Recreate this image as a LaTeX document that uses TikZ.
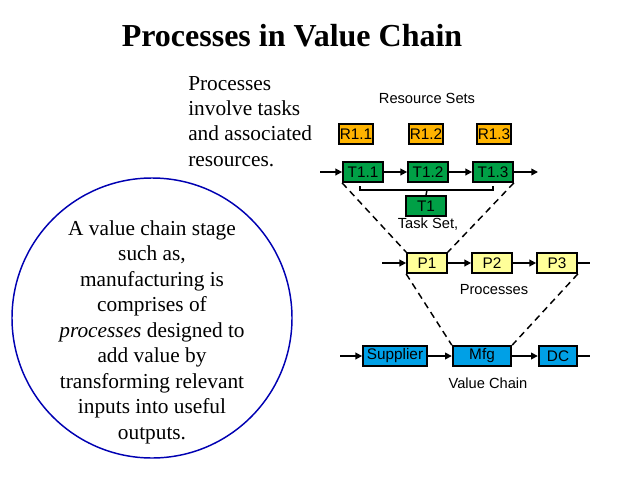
\documentclass[tikz,border=0pt]{standalone}
\usepackage{fontspec}
\setmainfont{Liberation Serif}
\newfontfamily\sansf{Liberation Sans}
\usetikzlibrary{arrows.meta}
\definecolor{rorange}{RGB}{255,180,0}
\definecolor{tgreen}{RGB}{0,160,70}
\definecolor{pyellow}{RGB}{255,255,153}
\definecolor{vblue}{RGB}{0,160,230}
\begin{document}
\begin{tikzpicture}[x=0.75pt,y=-0.75pt,
 box/.style={draw=black,line width=1.3pt,inner sep=0pt,font=\sansf\fontsize{11.5}{13}\selectfont,minimum height=15pt},
 arr/.style={line width=1.1pt,-{Triangle[length=5pt,width=5pt]}},
 dsh/.style={line width=1.1pt,dash pattern=on 5pt off 3.5pt},
 lbl/.style={font=\sansf\fontsize{11}{13}\selectfont}]
\useasboundingbox (0,0) rectangle (638,478);
\node[font=\bfseries\fontsize{24}{28}\selectfont] (title) at (292,36) {Processes in Value Chain};
\node[anchor=north west,align=left,font=\fontsize{16}{19}\selectfont,inner sep=0pt] (intro) at (188,76) {Processes\\involve tasks\\and associated\\resources.};
\node[lbl] (rs) at (427,98) {Resource Sets};
\foreach \n/\x/\t in {r1/356/R1.1, r2/426/R1.2, r3/494/R1.3}
  \node[box,fill=rorange,minimum width=25pt] (\n) at (\x,134) {\t};
\foreach \n/\x/\t in {t1/363/T1.1, t2/428/T1.2, t3/493/T1.3}
  \node[box,fill=tgreen,minimum width=30pt] (\n) at (\x,172) {\t};
\node[box,fill=tgreen,minimum width=30pt] (tt) at (426,206) {T1};
\node[lbl] (ts) at (428,224) {Task Set,};
\foreach \n/\x/\t in {p1/427/P1, p2/492/P2, p3/557/P3}
  \node[box,fill=pyellow,minimum width=30pt] (\n) at (\x,263) {\t};
\node[lbl] (pl) at (494,290) {Processes};
\node[box,fill=vblue,minimum width=48pt] (sup) at (395,356) {Supplier};
\node[box,fill=vblue,minimum width=44pt] (mfg) at (482,356) {Mfg};
\node[box,fill=vblue,minimum width=29pt] (dc) at (558,356) {DC};
\node[lbl] (vc) at (488,383) {Value Chain};
\coordinate (tin) at (320,172); \coordinate (tout) at (538,172);
\coordinate (pin) at (382,263); \coordinate (pout) at (590,263);
\coordinate (vin) at (340,356); \coordinate (vout) at (590,356);
\draw[arr] (tin) -- (t1); \draw[arr] (t1) -- (t2); \draw[arr] (t2) -- (t3); \draw[arr] (t3) -- (tout);
\draw[arr] (pin) -- (p1); \draw[arr] (p1) -- (p2); \draw[arr] (p2) -- (p3); \draw[line width=1.1pt] (p3) -- (pout);
\draw[arr] (vin) -- (sup); \draw[arr] (sup) -- (mfg); \draw[arr] (mfg) -- (dc); \draw[line width=1.1pt] (dc) -- (vout);
\draw[line width=1.1pt] (360,186) -- (360,190) -- (493,190) -- (493,186);
\draw[line width=1.1pt] (427,190) -- (tt.north);
\draw[dsh] (t1.south west) -- (p1.north west);
\draw[dsh] (t3.south east) -- (p1.north east);
\draw[dsh] (p1.south west) -- (mfg.north west);
\draw[dsh] (p3.south east) -- (mfg.north east);
\node[circle,draw=blue!70!black,line width=1.1pt,minimum size=210pt,inner sep=0pt] (circ) at (152,318) {};
\node[align=center,font=\fontsize{16}{19.1}\selectfont] (ctext) at (152,332) {A value chain stage\\such as,\\manufacturing is\\comprises of\\\textit{processes} designed to\\add value by\\transforming relevant\\inputs into useful\\outputs.};
\end{tikzpicture}
\end{document}
